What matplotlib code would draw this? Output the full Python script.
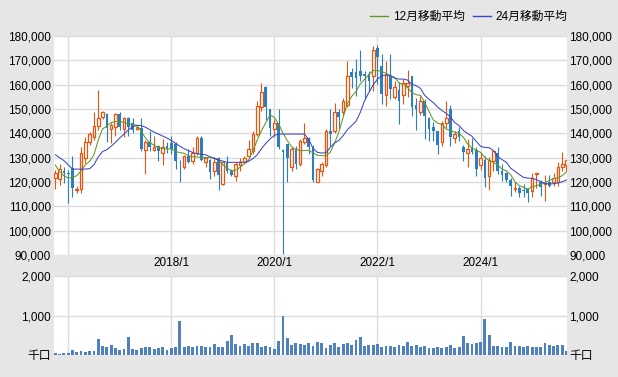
import numpy as np
import pandas as pd
import matplotlib
matplotlib.use("Agg")
import matplotlib.pyplot as plt
from matplotlib.lines import Line2D
from matplotlib.ticker import FuncFormatter

plt.rcParams['font.family'] = ['Liberation Sans', 'Noto Sans CJK JP', 'DejaVu Sans']

# monthly candles, 2015/10 .. 2025/9 (yen)
months = pd.period_range('2015-10', periods=120, freq='M')

opens = [121500, 121200, 124500, 123800, 125600, 116700, 117000, 129700, 136300, 138600,
         143100, 146900, 147900, 141600, 142700, 147900, 141600, 146200, 144100, 141600,
         142200, 133300, 136300, 133300, 134900, 131800, 134900, 135900, 135600, 127600,
         126000, 130500, 128800, 131800, 137900, 128100, 129000, 124400, 129700, 119200,
         128000, 124600, 122600, 127100, 128100, 130500, 132900, 139700, 150700, 158900,
         150000, 141800, 144100, 133200, 135500, 126000, 133500, 127400, 136300, 138100,
         134200, 119900, 124600, 127100, 140800, 140800, 148600, 148600, 151600, 165100,
         165100, 165800, 164400, 164400, 163400, 175000, 167500, 155900, 163700, 155000,
         157800, 155900, 159600, 163400, 151600, 148600, 153100, 146200, 142700, 140800,
         136300, 144100, 150000, 138100, 140800, 134500, 131800, 134500, 133100, 127100,
         129000, 122600, 128800, 131900, 124600, 123500, 121000, 117300, 117600, 116800,
         117300, 116400, 123300, 120000, 119100, 119900, 120100, 119900, 126000, 127100]
highs = [125000, 127400, 126300, 125000, 130700, 118300, 134500, 138600, 140700, 148900,
         157800, 149000, 148200, 144100, 148200, 148900, 146600, 146600, 146200, 143400,
         146200, 137200, 141000, 138700, 135200, 137700, 136300, 139000, 136300, 129000,
         131200, 133500, 134200, 138700, 139000, 130400, 129400, 130400, 130100, 128800,
         130500, 125300, 128100, 129900, 130500, 137200, 140800, 153400, 160500, 159600,
         150000, 145900, 150000, 133500, 135500, 134200, 134900, 137600, 144100, 138600,
         135300, 125900, 128400, 141800, 150000, 152300, 150000, 154500, 169600, 166800,
         170500, 174200, 165800, 165800, 175800, 176400, 172600, 169900, 172600, 161600,
         161000, 162300, 166000, 163400, 154500, 155500, 154100, 146800, 144500, 141100,
         144900, 153100, 151600, 141100, 142700, 135200, 137600, 138100, 134200, 132200,
         130800, 130100, 132900, 134500, 127400, 124000, 121600, 119900, 118500, 119200,
         117500, 123700, 123700, 121000, 122900, 122900, 123500, 128100, 132200, 129000]
lows = [117000, 118800, 119700, 111500, 114000, 115300, 115300, 127700, 135200, 137300,
        141400, 146000, 136600, 135900, 138900, 141400, 138600, 138900, 140000, 141400,
        132900, 123300, 132900, 132900, 128800, 127100, 131800, 131500, 125300, 119900,
        125300, 128000, 127400, 131200, 128800, 126000, 121200, 122600, 116800, 118900,
        123500, 122600, 120500, 124600, 127700, 129900, 131500, 139000, 149000, 145500,
        139000, 138300, 133600, 90300, 119900, 124600, 125300, 126700, 135600, 131500,
        119900, 119900, 122600, 126000, 134900, 140100, 141800, 147200, 150900, 158600,
        155500, 161600, 154100, 157500, 157500, 160300, 152000, 151300, 154100, 154100,
        143800, 152100, 154800, 147300, 141500, 147500, 137700, 136700, 136700, 131500,
        134900, 142100, 134900, 136000, 136700, 128800, 126300, 131500, 122600, 125100,
        118100, 116800, 124400, 123300, 120500, 120000, 114400, 115700, 113700, 113700,
        111600, 113700, 117500, 114400, 112300, 117800, 118500, 118500, 124600, 124400]
closes = [123500, 125200, 123600, 123200, 117400, 117000, 131800, 136300, 139700, 143100,
          146200, 148600, 142000, 143400, 147900, 142500, 146200, 142700, 141400, 142700,
          133500, 136300, 134500, 134200, 132900, 134200, 133600, 133600, 128500, 127300,
          130500, 128300, 131800, 137900, 129000, 129900, 124000, 128300, 123000, 128300,
          124600, 123000, 127400, 128100, 129700, 133500, 139700, 151400, 156800, 150700,
          142100, 144100, 134500, 132500, 129800, 133500, 127400, 137000, 138100, 134200,
          121000, 125300, 127400, 140800, 139700, 148600, 146600, 153100, 163400, 163300,
          162600, 163700, 163700, 161600, 174200, 171500, 156100, 164400, 158200, 158900,
          153400, 160500, 160500, 151000, 150000, 153100, 147200, 141800, 141100, 135300,
          144100, 146200, 138300, 139700, 138300, 132200, 133500, 132200, 125300, 129900,
          121600, 129000, 132600, 124600, 123000, 121000, 118500, 117600, 115500, 116400,
          115500, 121500, 123700, 118100, 119400, 118500, 121500, 126000, 127400, 129000]

# moving averages as drawn on the chart (yen)
ma12 = [127000, 124200, 122600, 121600, 121900, 122600, 124600, 127100, 128500, 131200,
        137200, 141800, 143000, 144400, 144900, 144900, 144500, 143800, 143700, 143300,
        140800, 138100, 136200, 135100, 134200, 133700, 133600, 133600, 132500, 132100,
        131800, 130800, 130400, 130300, 130100, 130100, 130000, 129900, 129000, 127100,
        125700, 124600, 124900, 126000, 127400, 129000, 132900, 137200, 141100, 144400,
        147500, 146600, 143800, 140100, 137000, 134500, 133400, 132900, 132900, 133000,
        132000, 131000, 130800, 130800, 132200, 135900, 140400, 146600, 152300, 155200,
        157200, 160300, 162200, 164100, 165800, 165800, 165400, 164700, 163700, 163000,
        160700, 160100, 158800, 156700, 155900, 155600, 152700, 149000, 145500, 144200,
        143700, 141800, 141100, 140500, 139900, 138400, 135600, 134000, 133000, 132200,
        130100, 128800, 128000, 127000, 125300, 124600, 123000, 120100, 118500, 117800,
        117100, 118100, 118500, 119000, 119700, 120700, 121400, 121800, 122600, 124200]
ma24 = [131200, 130000, 128800, 127100, 125300, 125300, 125300, 125300, 125500, 127100,
        130300, 132500, 133300, 134700, 136300, 138100, 139700, 141400, 142700, 143300,
        143200, 142500, 141500, 140500, 139700, 138900, 138100, 137100, 135900, 134700,
        133700, 132900, 132100, 131600, 131400, 131200, 130400, 129700, 129000, 128600,
        128100, 128100, 128100, 128100, 128100, 128500, 129600, 131200, 133700, 135900,
        137700, 139200, 139700, 139700, 139700, 139700, 139700, 139700, 139700, 137500,
        133800, 132200, 131900, 132000, 134200, 136000, 137100, 139000, 141500, 143200,
        144900, 148600, 153400, 156800, 159900, 162300, 163600, 164000, 163700, 162700,
        162300, 162300, 161900, 160100, 159600, 158500, 155600, 154000, 152600, 150800,
        149400, 148200, 146700, 144400, 143200, 141200, 139900, 138800, 136700, 134700,
        134200, 134100, 132900, 130400, 129200, 128100, 125700, 124400, 123100, 121900,
        121600, 121500, 121000, 120100, 119400, 119200, 119300, 119600, 120100, 120800]

# volume, thousand units
volume = [50, 25, 50, 50, 125, 75, 100, 85, 110, 110,
          400, 225, 200, 250, 185, 135, 150, 450, 150, 135,
          185, 200, 200, 160, 185, 200, 135, 185, 200, 850,
          200, 225, 200, 225, 225, 200, 200, 275, 200, 200,
          350, 500, 275, 225, 275, 225, 300, 300, 200, 225,
          200, 150, 350, 1000, 425, 250, 300, 275, 250, 300,
          225, 325, 300, 175, 250, 300, 200, 275, 300, 250,
          375, 450, 225, 250, 250, 275, 200, 225, 225, 200,
          250, 225, 325, 225, 250, 200, 225, 175, 175, 200,
          175, 200, 250, 175, 200, 475, 300, 275, 300, 325,
          900, 500, 225, 225, 200, 200, 325, 225, 225, 200,
          225, 200, 200, 200, 300, 250, 225, 250, 250, 100]

price_ticks = list(range(90000, 180001, 10000))
vol_ticks = [0, 1000, 2000]
vol_tick_labels = ['千口', '1,000', '2,000']

UP = '#e8530e'
DOWN = '#2b7ec1'
VOLC = '#4f81bd'
MA12C = '#5f9a22'
MA24C = '#3c46c8'
GRID = '#dcdcdc'
BG = '#e6e6e6'

o = np.array(opens); h = np.array(highs); l = np.array(lows); c = np.array(closes)
x = np.arange(len(c))
up = c >= o

W, H = 618, 377
fig = plt.figure(figsize=(W / 100, H / 100), dpi=100, facecolor=BG)
L, R = 54, 566.7
ax = fig.add_axes([L / W, 1 - 255 / H, (R - L) / W, (255 - 36) / H])
axv = fig.add_axes([L / W, 1 - 355 / H, (R - L) / W, (355 - 276) / H])

# candles: wick first, body on top (up = hollow, down = filled)
ax.vlines(x, l, h, colors=np.where(up, UP, DOWN), lw=0.8, zorder=3)
lo = np.minimum(o, c)
bh = np.maximum(np.abs(c - o), 250)
ax.bar(x[up], bh[up], bottom=lo[up], width=0.62, facecolor='white', edgecolor=UP, lw=0.9, zorder=4)
ax.bar(x[~up], bh[~up], bottom=lo[~up], width=0.62, color=DOWN, lw=0, zorder=4)

ax.plot(x, ma12, color=MA12C, lw=0.75, zorder=5)
ax.plot(x, ma24, color=MA24C, lw=0.75, zorder=5)

axv.bar(x, volume, width=0.66, color=VOLC, lw=0, zorder=3)

xt = [3, 27, 51, 75, 99]
xlabels = ['' if k == 0 else f'{months[i].year}/{months[i].month}' for k, i in enumerate(xt)]

for a in (ax, axv):
    a.set_facecolor('white')
    a.set_xlim(-0.3, 119.05)
    a.set_xticks(xt)
    for s in a.spines.values():
        s.set_visible(False)
    a.grid(True, color=GRID, lw=1, zorder=0)
    a.set_axisbelow(True)
    a.tick_params(axis='both', length=0, labelsize=8.5, pad=2)
    a.tick_params(axis='y', labelright=True, labelleft=True)

ax.set_ylim(90000, 180000)
ax.set_yticks(price_ticks)
ax.yaxis.set_major_formatter(FuncFormatter(lambda v, p: f'{v:,.0f}'))
ax.set_xticklabels(xlabels)
ax.tick_params(axis='x', pad=1.5)

axv.set_ylim(0, 2000)
axv.set_yticks(vol_ticks)
axv.set_yticklabels(vol_tick_labels)
axv.set_xticklabels([])

fig.legend([Line2D([], [], color=MA12C, lw=1), Line2D([], [], color=MA24C, lw=1)],
           ['12月移動平均', '24月移動平均'], loc='center right',
           bbox_to_anchor=(0.918, 0.955), ncol=2, frameon=False, fontsize=8.5,
           handlelength=1.5, handletextpad=0.4, columnspacing=0.7,
           borderaxespad=0, borderpad=0)

fig.savefig('out.png', dpi=100, facecolor=BG)
